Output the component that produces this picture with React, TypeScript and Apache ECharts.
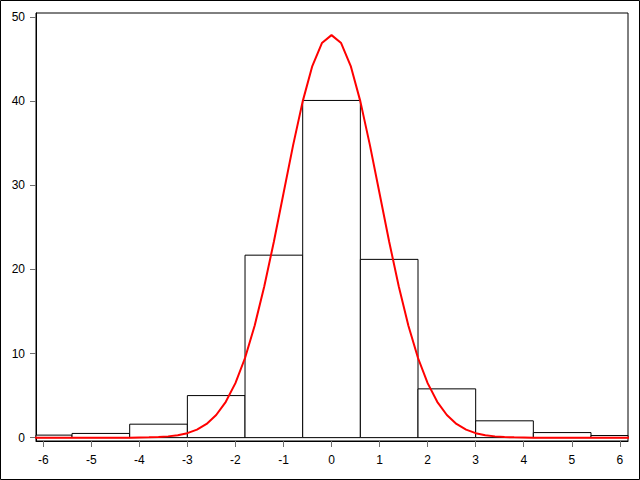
import React, { useEffect, useRef } from "react";
import * as echarts from "echarts";

const binCenters = [-6, -4.8, -3.6, -2.4, -1.2, 0, 1.2, 2.4, 3.6, 4.8, 6];
const binWidth = 1.2;
const percents = [0.3, 0.5, 1.6, 5.0, 21.7, 40.1, 21.2, 5.8, 2.0, 0.6, 0.25];

const curveX = [
  -6.2, -6.0, -5.8, -5.6, -5.4, -5.2, -5.0, -4.8, -4.6, -4.4, -4.2, -4.0, -3.8, -3.6, -3.4, -3.2,
  -3.0, -2.8, -2.6, -2.4, -2.2, -2.0, -1.8, -1.6, -1.4, -1.2, -1.0, -0.8, -0.6, -0.4, -0.2, 0,
  0.2, 0.4, 0.6, 0.8, 1.0, 1.2, 1.4, 1.6, 1.8, 2.0, 2.2, 2.4, 2.6, 2.8, 3.0, 3.2,
  3.4, 3.6, 3.8, 4.0, 4.2, 4.4, 4.6, 4.8, 5.0, 5.2, 5.4, 5.6, 5.8, 6.0, 6.2,
];
const curveY = [
  0, 0, 0, 0, 0, 0, 0, 0, 0, 0, 0, 0.02, 0.04, 0.07, 0.15, 0.29,
  0.53, 0.95, 1.63, 2.69, 4.26, 6.48, 9.47, 13.31, 17.97, 23.3, 29.03, 34.76, 39.99, 44.19, 46.92, 47.87,
  46.92, 44.19, 39.99, 34.76, 29.03, 23.3, 17.97, 13.31, 9.47, 6.48, 4.26, 2.69, 1.63, 0.95, 0.53, 0.29,
  0.15, 0.07, 0.04, 0.02, 0, 0, 0, 0, 0, 0, 0, 0, 0, 0, 0,
];

const xTicks = [-6, -5, -4, -3, -2, -1, 0, 1, 2, 3, 4, 5, 6];
const yTicks = [0, 10, 20, 30, 40, 50];

const FONT = "'Liberation Sans', Arial, sans-serif";

export default function App() {
  const ref = useRef<HTMLDivElement>(null);
  useEffect(() => {
    if (!ref.current) return;
    const chart = echarts.init(ref.current, null, { renderer: "svg" });
    const barData = binCenters.map((c, i) => [c - binWidth / 2, c + binWidth / 2, percents[i]]);
    const lineData = curveX.map((x, i) => [x, curveY[i]]);
    chart.setOption({
      animation: false,
      backgroundColor: "#fff",
      grid: {
        left: 36,
        top: 13,
        width: 592,
        height: 428,
        show: true,
        borderColor: "#000",
        borderWidth: 1,
        backgroundColor: "transparent",
      },
      graphic: [
        {
          type: "rect",
          shape: { x: 0.5, y: 0.5, width: 639, height: 479 },
          style: { fill: "none", stroke: "#000", lineWidth: 1 },
          silent: true,
          z: 100,
        },
      ],
      xAxis: {
        type: "value",
        min: -6.15,
        max: 6.17,
        splitLine: { show: false },
        axisLine: { show: true, onZero: false, lineStyle: { color: "#000" } },
        axisTick: { show: true, length: 6, customValues: xTicks, lineStyle: { color: "#6e6e6e" } },
        axisLabel: {
          customValues: xTicks,
          color: "#000",
          fontFamily: FONT,
          fontSize: 12,
          margin: 13,
        },
      },
      yAxis: {
        type: "value",
        min: -0.4,
        max: 50.5,
        splitLine: { show: false },
        axisLine: { show: true, onZero: false, lineStyle: { color: "#000" } },
        axisTick: { show: true, length: 6, customValues: yTicks, lineStyle: { color: "#6e6e6e" } },
        axisLabel: {
          customValues: yTicks,
          color: "#000",
          fontFamily: FONT,
          fontSize: 12,
          margin: 11,
        },
      },
      series: [
        {
          type: "custom",
          data: barData,
          encode: { x: [0, 1], y: 2 },
          renderItem: (params: any, api: any) => {
            const x0 = api.value(0);
            const x1 = api.value(1);
            const y = api.value(2);
            const p0 = api.coord([x0, y]);
            const p1 = api.coord([x1, 0]);
            const cs = params.coordSys;
            const rect = echarts.graphic.clipRectByRect(
              { x: p0[0], y: p0[1], width: p1[0] - p0[0], height: p1[1] - p0[1] },
              { x: cs.x, y: cs.y, width: cs.width, height: cs.height }
            );
            if (!rect) return null;
            return {
              type: "rect",
              shape: rect,
              style: { fill: "#fff", stroke: "#000", lineWidth: 1 },
            };
          },
          z: 2,
        },
        {
          type: "line",
          data: lineData,
          showSymbol: false,
          symbol: "none",
          smooth: false,
          clip: true,
          lineStyle: { color: "#ff0000", width: 2 },
          z: 3,
        },
      ],
    });
    return () => chart.dispose();
  }, []);
  return (
    <div
      ref={ref}
      style={{ position: "absolute", left: 0, top: 0, width: 640, height: 480 }}
    />
  );
}
